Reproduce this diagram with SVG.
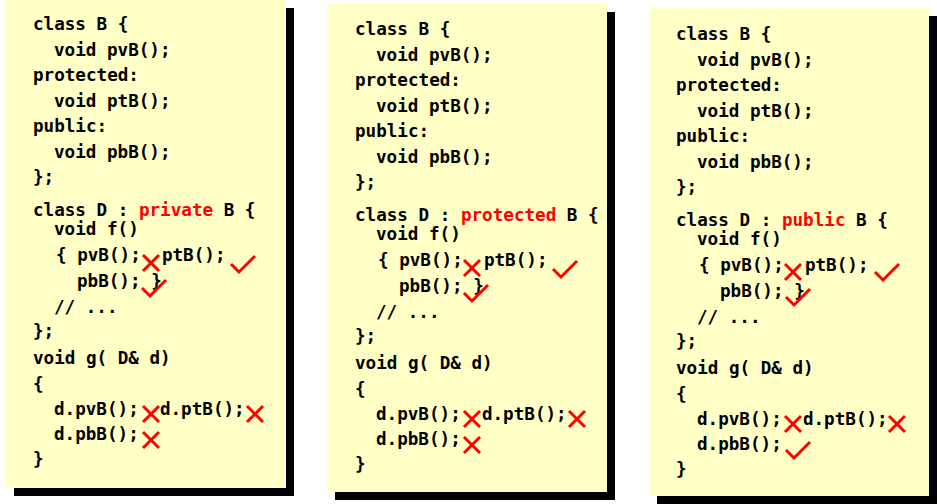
<svg xmlns="http://www.w3.org/2000/svg" width="937" height="504" viewBox="0 0 937 504">
<style>
.bg{fill:#ffffc6}.sh{fill:#000}
text{font-family:"DejaVu Sans Mono","Liberation Mono",monospace;font-weight:bold;font-size:17.6px;fill:#000;white-space:pre}
.r{fill:#ff0000}
.m{fill:none;stroke:#ff0000;stroke-width:3;stroke-linecap:butt}
</style>
<defs>
<path id="x" class="m" d="M-8,-8 L8,8 M8,-8 L-8,8"/>
<path id="c" class="m" d="M-12,0 L-4,8 L12,-8"/>
<g id="code">
<text x="0" y="7">class B {</text>
<text x="21" y="33">void pvB();</text>
<text x="0" y="58">protected:</text>
<text x="21" y="84">void ptB();</text>
<text x="0" y="109">public:</text>
<text x="21" y="135">void pbB();</text>
<text x="0" y="160">};</text>
<text x="21" y="212">void f()</text>
<text x="23" y="238">{ pvB();  ptB();</text>
<text x="44" y="264">pbB(); }</text>
<text x="21" y="290">// ...</text>
<text x="0" y="314">};</text>
<text x="0" y="341">void g( D&amp; d)</text>
<text x="0" y="367">{</text>
<text x="21" y="392">d.pvB();  d.ptB();</text>
<text x="21" y="417">d.pbB();</text>
<text x="0" y="442">}</text>
</g>
</defs>
<g id="panel1">
<rect class="sh" x="14" y="8" width="280" height="488"/>
<rect class="bg" x="6" y="0" width="280" height="488"/>
<use href="#code" x="33" y="23"/>
<text x="33" y="216">class D : <tspan class="r">private</tspan> B {</text>
<use href="#x" x="151" y="263"/><use href="#c" x="243" y="264"/><use href="#c" x="154" y="288"/>
<use href="#x" x="151" y="414"/><use href="#x" x="255" y="414"/><use href="#x" x="151" y="440"/>
</g>
<g id="panel2">
<rect class="sh" x="335" y="12" width="280" height="488"/>
<rect class="bg" x="327" y="4" width="280" height="488"/>
<use href="#code" x="355" y="28"/>
<text x="355" y="221">class D : <tspan class="r">protected</tspan> B {</text>
<use href="#x" x="472" y="268"/><use href="#c" x="565" y="269"/><use href="#c" x="476" y="293"/>
<use href="#x" x="472" y="419"/><use href="#x" x="577" y="419"/><use href="#x" x="472" y="445"/>
</g>
<g id="panel3">
<rect class="sh" x="657" y="16" width="280" height="488"/>
<rect class="bg" x="649" y="8" width="280" height="488"/>
<use href="#code" x="676" y="33"/>
<text x="676" y="226">class D : <tspan class="r">public</tspan> B {</text>
<use href="#x" x="793" y="272"/><use href="#c" x="887" y="272"/><use href="#c" x="798" y="297"/>
<use href="#x" x="793" y="424"/><use href="#x" x="897" y="424"/><use href="#c" x="798" y="450"/>
</g>
</svg>
